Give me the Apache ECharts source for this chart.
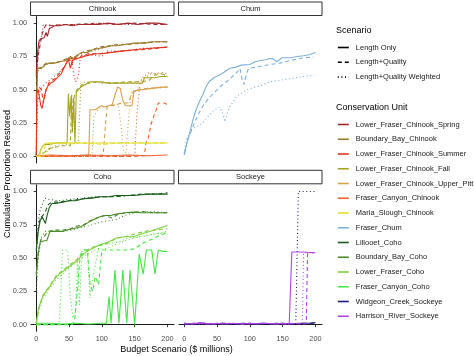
<!DOCTYPE html>
<html><head><meta charset="utf-8">
<script src="https://cdn.jsdelivr.net/npm/echarts@6/dist/echarts.min.js"></script>
<style>html,body{margin:0;padding:0;background:#fff}#c{width:474px;height:356px}</style>
</head><body><div id="c"></div>
<script>
// ---------- data ----------
const panels = ['Chinook', 'Chum', 'Coho', 'Sockeye'];
const budgetTicks = [0, 50, 100, 150, 200];
const proportionTicks = [0, 0.25, 0.5, 0.75, 1];
const scenarioNames = ['Length Only', 'Length+Quality', 'Length+Quality Weighted'];
const unitNames = ['Lower_Fraser_Chinook_Spring', 'Boundary_Bay_Chinook', 'Lower_Fraser_Chinook_Summer',
  'Lower_Fraser_Chinook_Fall', 'Lower_Fraser_Chinook_Upper_Pitt', 'Fraser_Canyon_Chinook', 'Maria_Slough_Chinook',
  'Fraser_Chum', 'Lillooet_Coho', 'Boundary_Bay_Coho', 'Lower_Fraser_Coho', 'Fraser_Canyon_Coho',
  'Widgeon_Creek_Sockeye', 'Harrison_River_Sockeye'];
const unitPanel = [0, 0, 0, 0, 0, 0, 0, 1, 2, 2, 2, 2, 3, 3];

// [budget ($ millions), cumulative proportion restored]
const springLO = [[0,0.62],[2,0.78],[4,0.86],[6,0.88],[9,0.88],[12,0.89],[15,0.93],[17,0.90],[20,0.96],[24,0.97],[28,0.98],[35,0.98],[45,0.99],[55,0.98],[65,0.99],[80,0.99],[95,0.99],[110,1.0],[125,0.99],[140,1.0],[155,0.99],[170,1.0],[185,1.0],[200,0.99]];
const springLQ = [[0,0.60],[3,0.76],[6,0.84],[9,0.92],[12,0.96],[15,0.99],[25,0.98],[40,0.99],[60,0.99],[90,1.0],[120,0.99],[150,1.0],[180,0.99],[200,0.99]];
const springLQW = [[0,0.55],[2,0.72],[5,0.84],[8,0.90],[11,0.99],[20,0.98],[40,0.99],[70,0.99],[100,1.0],[140,0.99],[170,1.0],[200,0.99]];

const bbChinookLO = [[0,0.42],[1,0.50],[2,0.66],[6,0.66],[10,0.67],[14,0.69],[20,0.70],[28,0.70],[36,0.71],[45,0.72],[50,0.74],[56,0.73],[62,0.76],[70,0.78],[78,0.78],[86,0.80],[95,0.81],[105,0.82],[115,0.83],[125,0.83],[135,0.84],[150,0.85],[165,0.85],[180,0.86],[200,0.86]];
const bbChinookLQ = [[0,0.45],[2,0.66],[8,0.67],[15,0.70],[25,0.70],[35,0.71],[45,0.73],[52,0.75],[58,0.73],[66,0.77],[75,0.79],[85,0.80],[95,0.82],[110,0.83],[125,0.84],[140,0.84],[160,0.85],[180,0.86],[200,0.86]];
const bbChinookLQW = [[0,0.40],[2,0.64],[8,0.66],[15,0.69],[25,0.70],[35,0.71],[45,0.72],[55,0.74],[65,0.76],[75,0.78],[85,0.79],[100,0.81],[115,0.83],[130,0.84],[150,0.85],[175,0.86],[200,0.86]];

const summerLO = [[0,0],[1,0.48],[3,0.50],[5,0.44],[7,0.38],[9,0.36],[12,0.44],[15,0.50],[18,0.53],[22,0.55],[26,0.56],[30,0.58],[34,0.60],[38,0.62],[42,0.66],[46,0.70],[49,0.73],[52,0.66],[55,0.72],[60,0.73],[66,0.74],[72,0.75],[80,0.76],[90,0.77],[100,0.77],[115,0.78],[130,0.79],[150,0.80],[170,0.81],[200,0.82]];
const summerLQ = [[0,0],[1,0.45],[4,0.52],[8,0.50],[11,0.40],[15,0.50],[20,0.56],[28,0.58],[36,0.63],[44,0.68],[50,0.74],[54,0.69],[58,0.74],[64,0.73],[70,0.76],[80,0.77],[95,0.77],[110,0.78],[130,0.79],[160,0.80],[200,0.82]];
const summerLQW = [[0,0],[2,0.40],[6,0.50],[12,0.54],[20,0.57],[30,0.61],[40,0.65],[48,0.72],[54,0.74],[57,0.62],[60,0.56],[64,0.60],[67,0.73],[75,0.76],[88,0.76],[100,0.75],[108,0.79],[130,0.79],[160,0.81],[200,0.82]];

const fallLO = [[0,0],[4,0],[7,0.05],[10,0.08],[14,0.09],[20,0.09],[30,0.10],[40,0.10],[47,0.10],[49,0.47],[51,0.30],[53,0.45],[55,0.18],[57,0.44],[59,0.10],[61,0.48],[64,0.50],[68,0.52],[75,0.54],[82,0.56],[95,0.56],[110,0.55],[125,0.55],[140,0.55],[155,0.55],[162,0.55],[165,0.59],[180,0.59],[190,0.60],[200,0.60]];
const fallLQ = [[0,0],[10,0.02],[20,0.06],[40,0.08],[52,0.08],[54,0.46],[56,0.25],[58,0.45],[62,0.50],[70,0.54],[80,0.55],[95,0.56],[115,0.55],[140,0.56],[160,0.56],[172,0.57],[180,0.61],[190,0.62],[200,0.61]];
const fallLQW = [[0,0],[15,0.04],[30,0.08],[50,0.09],[64,0.10],[66,0.30],[68,0.55],[80,0.56],[100,0.55],[130,0.55],[155,0.56],[165,0.59],[175,0.62],[190,0.62],[200,0.60]];

const pittLO = [[0,0],[40,0],[80,0.01],[82,0.35],[90,0.35],[96,0.37],[100,0.38],[105,0.37],[110,0.38],[116,0.39],[120,0.46],[124,0.52],[128,0.51],[132,0.42],[136,0.38],[146,0.38],[149,0.49],[160,0.50],[175,0.51],[190,0.52],[200,0.52]];
const pittLQ = [[0,0],[60,0],[102,0.01],[105,0.20],[108,0.37],[115,0.38],[130,0.40],[140,0.40],[146,0.47],[150,0.50],[170,0.51],[200,0.52]];
const pittLQW = [[0,0],[70,0],[85,0.01],[88,0.30],[95,0.36],[110,0.38],[125,0.39],[129,0.25],[133,0.04],[137,0.03],[141,0.30],[145,0.48],[160,0.50],[180,0.51],[200,0.52]];

const canyonChinookLO = [[0,0],[20,0.01],[50,0.005],[80,0.01],[110,0.005],[140,0.01],[170,0.005],[200,0.01]];
const canyonChinookLQ = [[0,0],[150,0],[165,0.005],[167,0.10],[171,0.14],[175,0.24],[179,0.30],[183,0.35],[186,0.40],[195,0.40],[200,0.39]];
const canyonChinookLQW = [[0,0],[140,0],[150,0.01],[154,0.35],[158,0.55],[164,0.60],[172,0.63],[182,0.62],[192,0.63],[200,0.62]];

const mariaLO = [[0,0],[4,0],[8,0.06],[12,0.09],[16,0.10],[25,0.10],[40,0.10],[60,0.10],[80,0.10],[100,0.10],[125,0.10],[150,0.10],[175,0.10],[200,0.10]];
const mariaLQ = [[0,0],[10,0],[14,0.08],[20,0.10],[40,0.10],[70,0.10],[100,0.09],[130,0.10],[160,0.10],[200,0.10]];
const mariaLQW = [[0,0],[15,0],[20,0.08],[26,0.10],[50,0.10],[80,0.10],[110,0.10],[140,0.10],[170,0.10],[200,0.10]];

const chumLO = [[0,0.01],[4,0.10],[8,0.17],[13,0.27],[18,0.35],[23,0.41],[28,0.46],[33,0.52],[38,0.56],[45,0.59],[54,0.61],[60,0.63],[69,0.66],[78,0.67],[87,0.685],[100,0.69],[108,0.71],[116,0.72],[124,0.725],[131,0.735],[136,0.73],[141,0.71],[149,0.74],[162,0.74],[172,0.75],[182,0.755],[192,0.765],[200,0.78]];
const chumLQ = [[0,0.02],[5,0.12],[10,0.18],[16,0.26],[23,0.33],[30,0.39],[38,0.44],[46,0.48],[54,0.52],[62,0.55],[69,0.58],[76,0.61],[82,0.64],[85,0.66],[88,0.58],[91,0.54],[95,0.62],[98,0.66],[110,0.67],[120,0.68],[131,0.69],[146,0.70],[162,0.72],[182,0.74],[197,0.745]];
const chumLQW = [[0,0.02],[3,0.12],[10,0.20],[18,0.22],[28,0.25],[38,0.31],[46,0.35],[54,0.37],[59,0.32],[62,0.26],[66,0.33],[69,0.37],[80,0.45],[95,0.50],[116,0.53],[131,0.56],[157,0.58],[182,0.60],[198,0.61]];

const lillooetLO = [[0,0.57],[3,0.70],[6,0.78],[9,0.81],[12,0.78],[14,0.76],[17,0.83],[20,0.88],[24,0.91],[30,0.91],[40,0.92],[50,0.93],[60,0.93],[72,0.945],[85,0.95],[97,0.96],[110,0.96],[122,0.97],[135,0.97],[148,0.97],[160,0.975],[173,0.98],[185,0.98],[200,0.98]];
const lillooetLQ = [[0,0.55],[3,0.72],[6,0.80],[10,0.82],[14,0.85],[18,0.90],[24,0.92],[35,0.92],[50,0.93],[65,0.94],[80,0.95],[100,0.96],[120,0.96],[140,0.97],[160,0.98],[180,0.98],[200,0.99]];
const lillooetLQW = [[0,0.50],[3,0.75],[6,0.86],[9,0.90],[13,0.95],[20,0.94],[35,0.93],[50,0.94],[70,0.95],[90,0.96],[110,0.96],[140,0.97],[170,0.98],[200,0.98]];

const bbCohoLO = [[0,0.38],[3,0.53],[6,0.62],[9,0.61],[12,0.63],[16,0.63],[21,0.70],[30,0.70],[40,0.70],[47,0.71],[55,0.72],[64,0.73],[72,0.745],[80,0.77],[88,0.79],[97,0.81],[105,0.82],[113,0.82],[122,0.83],[135,0.84],[148,0.845],[160,0.84],[173,0.84],[185,0.84],[200,0.84]];
const bbCohoLQ = [[0,0.36],[3,0.55],[7,0.64],[12,0.66],[18,0.70],[28,0.71],[40,0.71],[52,0.72],[62,0.74],[72,0.75],[82,0.78],[92,0.80],[104,0.82],[116,0.80],[125,0.83],[140,0.84],[160,0.85],[180,0.84],[200,0.84]];
const bbCohoLQW = [[0,0.25],[3,0.50],[8,0.66],[14,0.70],[25,0.70],[40,0.70],[55,0.71],[70,0.73],[85,0.75],[97,0.77],[110,0.78],[122,0.79],[135,0.82],[150,0.84],[170,0.85],[200,0.84]];

const lfCohoLO = [[0,0.01],[3,0.11],[6,0.16],[10,0.21],[15,0.25],[20,0.28],[25,0.32],[31,0.36],[38,0.39],[46,0.42],[54,0.45],[62,0.48],[70,0.52],[77,0.55],[85,0.57],[97,0.60],[110,0.62],[122,0.65],[135,0.66],[148,0.66],[160,0.68],[173,0.70],[185,0.72],[200,0.745]];
const lfCohoLQ = [[0,0.01],[4,0.12],[10,0.22],[20,0.29],[31,0.37],[46,0.43],[62,0.49],[77,0.56],[90,0.59],[105,0.60],[115,0.63],[125,0.65],[135,0.66],[150,0.68],[165,0.70],[180,0.71],[200,0.72]];
const lfCohoLQW = [[0,0.01],[4,0.10],[10,0.19],[20,0.27],[31,0.34],[46,0.41],[62,0.47],[77,0.53],[90,0.56],[105,0.57],[120,0.60],[135,0.63],[150,0.65],[165,0.67],[180,0.68],[200,0.69]];

const canyonCohoLO = [[0,0.01],[20,0.01],[40,0.005],[60,0.01],[80,0.005],[100,0.01],[107,0.01],[111,0.21],[114,0.01],[120,0.41],[126,0.01],[132,0.41],[138,0.01],[143,0.41],[150,0.0],[157,0.53],[163,0.38],[168,0.56],[176,0.56],[181,0.38],[186,0.56],[193,0.55],[200,0.55]];
const canyonCohoLQ = [[0,0],[55,0],[59,0.05],[63,0.28],[67,0.52],[72,0.56],[78,0.56],[82,0.30],[86,0.25],[90,0.36],[95,0.30],[100,0.56],[110,0.56],[125,0.56],[140,0.56],[150,0.57],[162,0.61],[175,0.64],[188,0.67],[200,0.69]];
const canyonCohoLQW = [[0,0],[35,0],[38,0.30],[40,0.56],[48,0.56],[52,0.20],[56,0.05],[60,0.10],[63,0.50],[66,0.15],[70,0.56],[78,0.56],[82,0.20],[86,0.35],[90,0.45],[96,0.60],[110,0.61],[125,0.62],[140,0.65],[160,0.66],[180,0.68],[200,0.70]];

const widgeonLO = [[0,0.01],[15,0.005],[30,0.01],[45,0.005],[60,0.01],[75,0.005],[90,0.01],[105,0.005],[120,0.01],[135,0.005],[150,0.01],[165,0.005],[180,0.01],[190,0.01],[200,0.015]];
const widgeonLQ = [[0,0.005],[20,0.01],[40,0.005],[60,0.01],[80,0.005],[100,0.01],[120,0.005],[140,0.01],[160,0.005],[180,0.01],[200,0.01]];
const widgeonLQW = [[0,0],[50,0.005],[100,0.005],[150,0.005],[170,0.005],[174,1.0],[200,1.0]];

const harrisonLO = [[0,0.01],[12,0.005],[25,0.015],[38,0.005],[50,0.01],[62,0.005],[75,0.01],[88,0.005],[100,0.01],[112,0.005],[125,0.01],[138,0.005],[150,0.01],[160,0.005],[164,0.545],[180,0.545],[200,0.54]];
const harrisonLQ = [[0,0.005],[20,0.01],[45,0.005],[70,0.01],[95,0.005],[120,0.01],[145,0.005],[170,0.01],[186,0.005],[188,0.54],[200,0.54]];
const harrisonLQW = [[0,0.01],[30,0.005],[60,0.01],[90,0.005],[120,0.01],[150,0.005],[180,0.005],[182,0.54],[190,0.54],[200,0.54]];

const unitData = [
  [springLO, springLQ, springLQW], [bbChinookLO, bbChinookLQ, bbChinookLQW], [summerLO, summerLQ, summerLQW],
  [fallLO, fallLQ, fallLQW], [pittLO, pittLQ, pittLQW], [canyonChinookLO, canyonChinookLQ, canyonChinookLQW],
  [mariaLO, mariaLQ, mariaLQW], [chumLO, chumLQ, chumLQW], [lillooetLO, lillooetLQ, lillooetLQW],
  [bbCohoLO, bbCohoLQ, bbCohoLQW], [lfCohoLO, lfCohoLQ, lfCohoLQW], [canyonCohoLO, canyonCohoLQ, canyonCohoLQW],
  [widgeonLO, widgeonLQ, widgeonLQW], [harrisonLO, harrisonLQ, harrisonLQW]];

// ---------- style ----------
const unitColors = ['#A0282C', '#9C7B2E', '#E3341F', '#A5A324', '#D9A04E', '#F0602F', '#E1DE2E',
  '#7FB0D8', '#1E5C1E', '#4B8B2B', '#80D042', '#44E544', '#1C1C80', '#B144E6'];
const scenarioDash = ['solid', [4, 3], [1, 2.6]];
const FONT = 'Liberation Sans, Arial, Helvetica, sans-serif';

const gridBoxes = [
  { left: 31, top: 16.5, width: 143, height: 146.5 },
  { left: 179, top: 16.5, width: 143, height: 146.5 },
  { left: 31, top: 184.8, width: 143, height: 146.5 },
  { left: 179, top: 184.8, width: 143, height: 146.5 }];
const showX = [false, false, true, true];
const showY = [true, false, true, false];

const labelStyle = { fontSize: 7.3, color: '#4D4D4D', fontFamily: FONT };

const xAxes = gridBoxes.map((g, i) => ({
  type: 'value', gridIndex: i, min: -8, max: 210,
  show: showX[i],
  axisLine: { show: true, lineStyle: { color: '#1a1a1a', width: 1 } },
  axisTick: { show: true, length: 2.5, lineStyle: { color: '#333' }, customValues: budgetTicks },
  axisLabel: Object.assign({ margin: 4, customValues: budgetTicks, formatter: v => String(v) }, labelStyle),
  splitLine: { show: false }
}));
const yAxes = gridBoxes.map((g, i) => ({
  type: 'value', gridIndex: i, min: -0.05, max: 1.05,
  show: showY[i],
  axisLine: { show: true, lineStyle: { color: '#1a1a1a', width: 1 } },
  axisTick: { show: true, length: 2.5, lineStyle: { color: '#333' }, customValues: proportionTicks },
  axisLabel: Object.assign({ margin: 4, customValues: proportionTicks, formatter: v => v.toFixed(2) }, labelStyle),
  splitLine: { show: false }
}));

const series = [];
scenarioNames.forEach((s, k) => {
  series.push({
    type: 'line', name: s, data: [], xAxisIndex: 0, yAxisIndex: 0, symbol: 'none',
    itemStyle: { color: '#000' }, lineStyle: { color: '#000', width: 1.4, type: scenarioDash[k] }
  });
});
unitNames.forEach((u, i) => {
  const p = unitPanel[i];
  scenarioNames.forEach((s, k) => {
    series.push({
      type: 'line', name: u, data: unitData[i][k], xAxisIndex: p, yAxisIndex: p,
      symbol: 'none', showSymbol: false, silent: true, clip: true,
      itemStyle: { color: unitColors[i] },
      lineStyle: { color: unitColors[i], width: 1.1, type: scenarioDash[k] },
      z: 2
    });
  });
});

const graphic = [];
panels.forEach((name, i) => {
  const g = gridBoxes[i];
  const top = g.top - 14.5;
  graphic.push({ type: 'rect', silent: true,
    shape: { x: g.left - 0.5, y: top, width: g.width + 0.5, height: 13.5 },
    style: { fill: '#fff', stroke: '#333', lineWidth: 1 } });
  graphic.push({ type: 'text', silent: true,
    style: { text: name, x: g.left + g.width / 2, y: top + 7, align: 'center', verticalAlign: 'middle',
      fontSize: 7.5, fontFamily: FONT, fill: '#1a1a1a' } });
});
graphic.push({ type: 'text', silent: true, x: 8, y: 174, rotation: Math.PI / 2,
  style: { text: 'Cumulative Proportion Restored', x: 0, y: 0, align: 'center', verticalAlign: 'middle',
    fontSize: 9, fontFamily: FONT, fill: '#000' } });
graphic.push({ type: 'text', silent: true,
  style: { text: 'Budget Scenario ($ millions)', x: 176.5, y: 349.5, align: 'center', verticalAlign: 'middle',
    fontSize: 9, fontFamily: FONT, fill: '#000' } });
graphic.push({ type: 'text', silent: true,
  style: { text: 'Scenario', x: 336, y: 30.5, align: 'left', verticalAlign: 'middle',
    fontSize: 9, fontFamily: FONT, fill: '#000' } });
graphic.push({ type: 'text', silent: true,
  style: { text: 'Conservation Unit', x: 336, y: 107.5, align: 'left', verticalAlign: 'middle',
    fontSize: 9, fontFamily: FONT, fill: '#000' } });

const legendText = { fontSize: 7.5, fontFamily: FONT, color: '#1a1a1a', padding: [0, 0, 0, 2] };
const option = {
  animation: false,
  backgroundColor: '#fff',
  grid: gridBoxes.map(g => Object.assign({ containLabel: false }, g)),
  xAxis: xAxes,
  yAxis: yAxes,
  legend: [
    { data: scenarioNames, orient: 'vertical', left: 337, top: 43.5, itemWidth: 11, itemHeight: 10, itemGap: 6.8,
      selectedMode: false, padding: 0, textStyle: legendText, lineStyle: { width: 1.6 },
      itemStyle: { opacity: 0, borderWidth: 0 } },
    { data: unitNames, orient: 'vertical', left: 337, top: 120.5, itemWidth: 11, itemHeight: 10, itemGap: 6.75,
      selectedMode: false, padding: 0, textStyle: legendText, lineStyle: { width: 1.6 },
      itemStyle: { opacity: 0, borderWidth: 0 } }
  ],
  graphic: graphic,
  series: series
};
const chart = echarts.init(document.getElementById('c'), null, { renderer: 'canvas' });
chart.setOption(option);
</script></body></html>
